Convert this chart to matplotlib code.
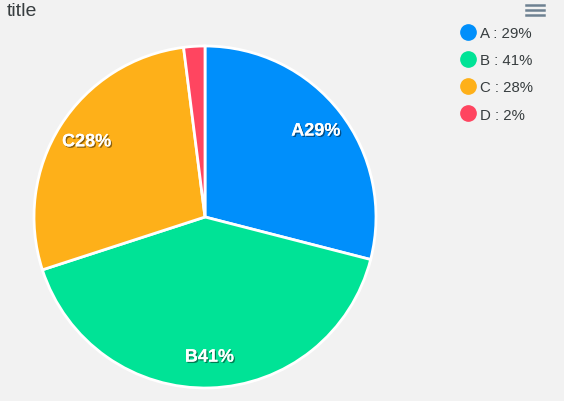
import matplotlib.pyplot as plt
import matplotlib.patheffects as pe
from matplotlib.lines import Line2D

labels = ['A', 'B', 'C', 'D']
values = [29, 41, 28, 2]
colors = ['#008FFB', '#00E396', '#FEB019', '#FF4560']
bg = '#f2f2f2'
txt = '#373d3f'

plt.rcParams['font.family'] = ['Liberation Sans', 'DejaVu Sans']

fig = plt.figure(figsize=(5.64, 4.02), dpi=100, facecolor=bg)
W, H = 564, 402
cx, cy, r = 205, 402 - 218, 171
ax = fig.add_axes([(cx - r) / W, (cy - r) / H, 2 * r / W, 2 * r / H])
ax.set_facecolor(bg)

wedges, texts, autotexts = ax.pie(
    values, colors=colors, startangle=90, counterclock=False,
    autopct=lambda p: '', pctdistance=0.82,
    wedgeprops=dict(edgecolor='white', linewidth=2))
for t, lab, v in zip(autotexts, labels, values):
    if v >= 5:
        t.set_text(f'{lab}{v}%')
    t.set_color('white')
    t.set_fontsize(13)
    t.set_fontweight('bold')
    t.set_path_effects([pe.withSimplePatchShadow(offset=(1, -1), shadow_rgbFace='black', alpha=0.45),
                        pe.Normal()])
ax.set_xlim(-1, 1)
ax.set_ylim(-1, 1)
ax.axis('off')

fig.text(7 / W, 1 - 12 / H, 'title', fontsize=14, color=txt, va='center', ha='left')

# hamburger menu icon
for yy in [6, 11, 16]:
    fig.add_artist(Line2D([526 / W, 544 / W], [1 - yy / H, 1 - yy / H],
                          color='#6E8192', linewidth=1.8))

handles = [Line2D([], [], marker='o', linestyle='', markersize=11,
                  markerfacecolor=c, markeredgecolor=c) for c in colors]
leg = fig.legend(handles, [f'{l} : {v}%' for l, v in zip(labels, values)],
                 loc='upper left', bbox_to_anchor=(462 / W, 1 - 27 / H),
                 frameon=False, fontsize=10.8, handlelength=0.8, handletextpad=0.4,
                 labelspacing=0.88, borderaxespad=0, borderpad=0)
for t in leg.get_texts():
    t.set_color(txt)

fig.savefig('out.png', dpi=100, facecolor=bg)
